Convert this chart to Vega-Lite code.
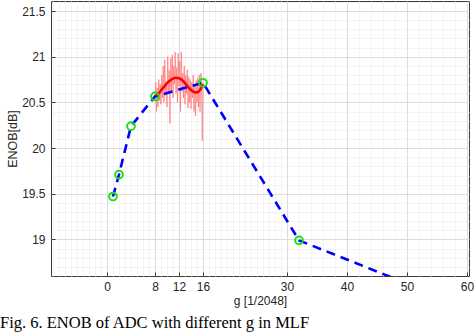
{
  "$schema": "https://vega.github.io/schema/vega-lite/v6.json",
  "width": 418,
  "height": 275,
  "autosize": "none",
  "padding": {"left": 51, "top": 1, "right": 5, "bottom": 56},
  "config": {
    "view": {"stroke": "#3a3a3a", "strokeWidth": 1},
    "font": "Liberation Sans",
    "axis": {"labelFont": "Liberation Sans", "titleFont": "Liberation Sans", "labelColor": "#262626", "titleColor": "#262626", "titleFontWeight": "normal"}
  },
  "title": {
    "text": "Fig. 6. ENOB of ADC with different g in MLF",
    "orient": "bottom",
    "anchor": "start",
    "frame": "group",
    "dx": -51,
    "offset": 9,
    "font": "Liberation Serif",
    "fontSize": 16.5,
    "fontWeight": "normal",
    "color": "#000000"
  },
  "datasets": {
    "meas": [
      {"g": 1, "enob": 19.47},
      {"g": 2, "enob": 19.71},
      {"g": 4, "enob": 20.24},
      {"g": 8, "enob": 20.565},
      {"g": 16, "enob": 20.715},
      {"g": 32, "enob": 18.99},
      {"g": 64, "enob": 18.15}
    ],
    "noisy": [
      {"g": 8.0, "enob": 20.57}, {"g": 8.125, "enob": 20.72}, {"g": 8.25, "enob": 20.40}, {"g": 8.375, "enob": 20.66},
      {"g": 8.5, "enob": 20.45}, {"g": 8.625, "enob": 20.75}, {"g": 8.75, "enob": 20.52}, {"g": 8.875, "enob": 20.70},
      {"g": 9.0, "enob": 20.48}, {"g": 9.125, "enob": 20.80}, {"g": 9.25, "enob": 20.55}, {"g": 9.375, "enob": 20.90},
      {"g": 9.5, "enob": 20.50}, {"g": 9.625, "enob": 20.97}, {"g": 9.75, "enob": 20.58}, {"g": 9.875, "enob": 20.72},
      {"g": 10.0, "enob": 20.45}, {"g": 10.125, "enob": 21.00}, {"g": 10.25, "enob": 20.60}, {"g": 10.375, "enob": 20.85},
      {"g": 10.5, "enob": 20.27}, {"g": 10.625, "enob": 20.98}, {"g": 10.75, "enob": 20.62}, {"g": 10.875, "enob": 21.02},
      {"g": 11.0, "enob": 20.55}, {"g": 11.125, "enob": 20.90}, {"g": 11.25, "enob": 20.70}, {"g": 11.375, "enob": 21.05},
      {"g": 11.5, "enob": 20.60}, {"g": 11.625, "enob": 20.88}, {"g": 11.75, "enob": 20.50}, {"g": 11.875, "enob": 21.04},
      {"g": 12.0, "enob": 20.68}, {"g": 12.125, "enob": 20.95}, {"g": 12.25, "enob": 20.40}, {"g": 12.375, "enob": 21.05},
      {"g": 12.5, "enob": 20.62}, {"g": 12.625, "enob": 20.82}, {"g": 12.75, "enob": 20.55}, {"g": 12.875, "enob": 20.90},
      {"g": 13.0, "enob": 20.48}, {"g": 13.125, "enob": 20.80}, {"g": 13.25, "enob": 20.60}, {"g": 13.375, "enob": 20.86},
      {"g": 13.5, "enob": 20.44}, {"g": 13.625, "enob": 20.78}, {"g": 13.75, "enob": 20.50}, {"g": 13.875, "enob": 20.75},
      {"g": 14.0, "enob": 20.43}, {"g": 14.125, "enob": 20.72}, {"g": 14.25, "enob": 20.55}, {"g": 14.375, "enob": 20.80},
      {"g": 14.5, "enob": 20.40}, {"g": 14.625, "enob": 20.70}, {"g": 14.75, "enob": 20.35}, {"g": 14.875, "enob": 20.74},
      {"g": 15.0, "enob": 20.50}, {"g": 15.125, "enob": 20.76}, {"g": 15.25, "enob": 20.45}, {"g": 15.375, "enob": 20.80},
      {"g": 15.5, "enob": 20.40}, {"g": 15.625, "enob": 20.82}, {"g": 15.75, "enob": 20.78}, {"g": 15.875, "enob": 20.08},
      {"g": 16.0, "enob": 20.72}
    ],
    "smooth": [
      {"g": 8.2, "enob": 20.57}, {"g": 8.5, "enob": 20.59}, {"g": 9.0, "enob": 20.63}, {"g": 9.5, "enob": 20.67},
      {"g": 10.0, "enob": 20.71}, {"g": 10.5, "enob": 20.74}, {"g": 11.0, "enob": 20.76}, {"g": 11.5, "enob": 20.77},
      {"g": 12.0, "enob": 20.765}, {"g": 12.5, "enob": 20.745}, {"g": 13.0, "enob": 20.71}, {"g": 13.5, "enob": 20.67},
      {"g": 14.0, "enob": 20.635}, {"g": 14.5, "enob": 20.615}, {"g": 15.0, "enob": 20.61}, {"g": 15.5, "enob": 20.635},
      {"g": 16.0, "enob": 20.70}
    ]
  },
  "layer": [
    {
      "data": {"name": "noisy"},
      "mark": {"type": "line", "color": "#ff7070", "strokeWidth": 1, "opacity": 0.7, "clip": true},
      "encoding": {
        "x": {"field": "g", "type": "quantitative", "scale": {"domain": [-9.33, 60.33], "nice": false, "zero": false},
          "axis": {"values": [0, 8, 12, 16, 30, 40, 50, 60], "title": "g [1/2048]", "labelFontSize": 12, "titleFontSize": 12,
            "grid": true, "gridColor": "#dcdcdc", "gridWidth": 1, "domain": false, "tickSize": -4, "tickColor": "#3a3a3a",
            "labelPadding": 9, "titlePadding": 3, "labelFlush": false}},
        "y": {"field": "enob", "type": "quantitative", "scale": {"domain": [18.6, 21.61], "nice": false, "zero": false},
          "axis": {"values": [19, 19.5, 20, 20.5, 21, 21.5], "title": "ENOB[dB]", "labelFontSize": 12, "titleFontSize": 12.5,
            "grid": true, "gridColor": "#dcdcdc", "gridWidth": 1, "domain": false, "tickSize": -4, "tickColor": "#3a3a3a",
            "labelPadding": 10, "titlePadding": 2, "format": "~g"}}
      }
    },
    {
      "data": {"name": "meas"},
      "mark": {"type": "line", "color": "#0000ff", "strokeWidth": 2.6, "strokeDash": [9, 6], "clip": true},
      "encoding": {
        "x": {"field": "g", "type": "quantitative",
          "axis": {"orient": "top", "values": [-9, -8, -7, -6, -5, -4, -3, -2, -1, 1, 2, 3, 4, 5, 6, 7, 9, 10, 11, 13, 14, 15, 17, 18, 19, 20, 21, 22, 23, 24, 25, 26, 27, 28, 29, 32, 34, 36, 38, 42, 44, 46, 48, 52, 54, 56, 58],
            "labels": false, "ticks": false, "domain": false, "title": null, "grid": true, "gridColor": "#e8e8e8", "gridDash": [1, 1], "gridWidth": 1}},
        "y": {"field": "enob", "type": "quantitative",
          "axis": {"orient": "right", "values": [18.7, 18.8, 18.9, 19.1, 19.2, 19.3, 19.4, 19.6, 19.7, 19.8, 19.9, 20.1, 20.2, 20.3, 20.4, 20.6, 20.7, 20.8, 20.9, 21.1, 21.2, 21.3, 21.4, 21.6],
            "labels": false, "ticks": false, "domain": false, "title": null, "grid": true, "gridColor": "#e8e8e8", "gridDash": [1, 1], "gridWidth": 1}}
      }
    },
    {
      "data": {"name": "smooth"},
      "mark": {"type": "line", "color": "#ff0000", "strokeWidth": 2.6, "interpolate": "monotone", "clip": true},
      "encoding": {
        "x": {"field": "g", "type": "quantitative", "axis": null},
        "y": {"field": "enob", "type": "quantitative", "axis": null}
      }
    },
    {
      "data": {"name": "meas"},
      "mark": {"type": "point", "shape": "circle", "filled": false, "color": "#18e018", "strokeWidth": 2, "size": 60, "opacity": 1, "clip": true},
      "encoding": {
        "x": {"field": "g", "type": "quantitative", "axis": null},
        "y": {"field": "enob", "type": "quantitative", "axis": null}
      }
    }
  ],
  "resolve": {"axis": {"x": "independent", "y": "independent"}}
}
